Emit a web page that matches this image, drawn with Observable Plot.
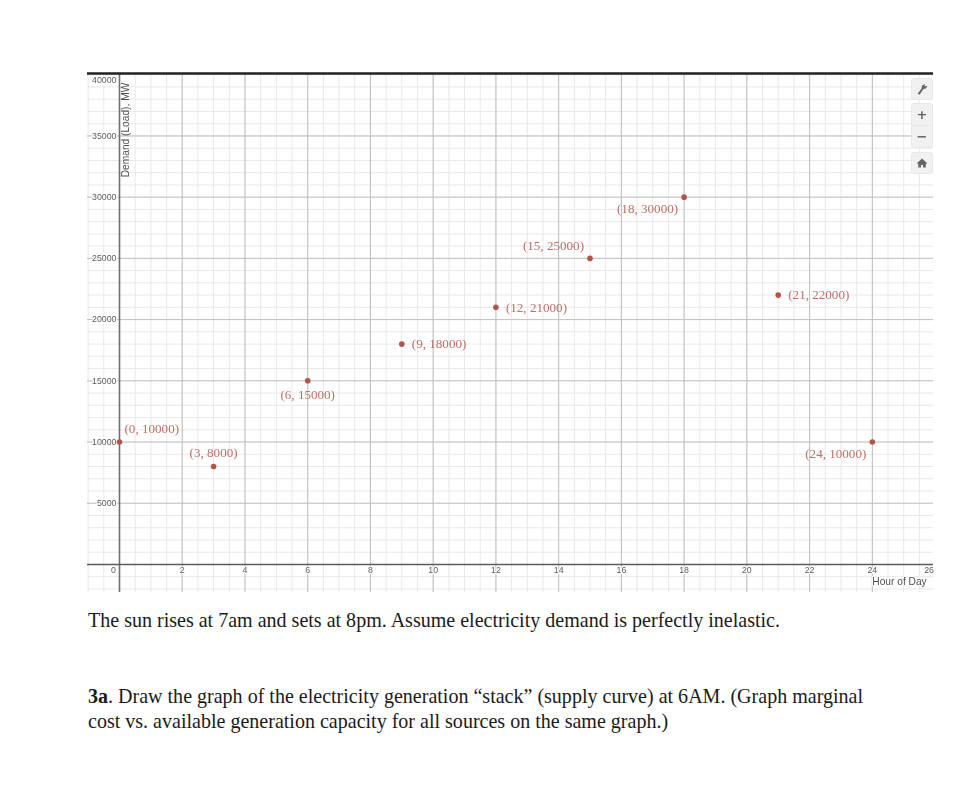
<!DOCTYPE html>
<html><head><meta charset="utf-8">
<script src="https://cdn.jsdelivr.net/npm/d3@7"></script>
<script src="https://cdn.jsdelivr.net/npm/@observablehq/plot@0.6"></script>
<style>
html,body{margin:0;padding:0;background:#fff;}
#wrap{position:relative;width:980px;height:790px;overflow:hidden;}
#chart svg{display:block;filter:blur(0.5px);background:transparent;}
.t{position:absolute;left:88px;margin:0;font-family:"Liberation Serif",serif;font-size:20.04px;line-height:25px;color:#1a1a1a;white-space:nowrap;}
.b{position:absolute;left:911px;width:22px;background:#f1f1f1;border:1px solid #e8e8e8;box-sizing:border-box;border-radius:3px;display:flex;align-items:center;justify-content:center;color:#666;font:bold 13px "DejaVu Sans",sans-serif;filter:blur(0.4px);}
</style></head><body>
<div id="wrap">
<div id="chart"></div>
<div class="b" style="top:78px;height:22px"><svg width="12" height="12" viewBox="0 0 12 12"><path d="M1.5 11 L5.5 5.5 L6 2.5 L9 1 L8.5 3.2 L11.5 3 L9.8 5.6 L7.2 6.2 L3.8 11.5 Z" fill="#666"/></svg></div>
<div class="b" style="top:103px;height:23px;border-radius:3px 3px 0 0">+</div>
<div class="b" style="top:125px;height:23px;border-radius:0 0 3px 3px">−</div>
<div class="b" style="top:152px;height:22px"><svg width="12" height="12" viewBox="0 0 12 12"><path d="M6 1.5 L11.5 6.5 L9.8 6.5 L9.8 10.5 L7 10.5 L7 8 L5 8 L5 10.5 L2.2 10.5 L2.2 6.5 L0.5 6.5 Z" fill="#666"/></svg></div>
<p class="t" style="top:608px">The sun rises at 7am and sets at 8pm. Assume electricity demand is perfectly inelastic.</p>
<p class="t" style="top:684px"><b>3a</b>. Draw the graph of the electricity generation “stack” (supply curve) at 6AM. (Graph marginal</p>
<p class="t" style="top:709px">cost vs. available generation capacity for all sources on the same graph.)</p>
</div>
<script>
const hours = [0, 3, 6, 9, 12, 15, 18, 21, 24];
const demand = [10000, 8000, 15000, 18000, 21000, 25000, 30000, 22000, 10000];
const xTickValues = [2, 4, 6, 8, 10, 12, 14, 16, 18, 20, 22, 24, 26];
const yTickValues = [5000, 10000, 15000, 20000, 25000, 30000, 35000, 40000];
const xMinor = d3.range(-1, 26, 0.5);
const yMinor = d3.range(-2000, 40001, 1000);
const xTitle = "Hour of Day";
const yTitle = "Demand (Load), MW";

const points = hours.map((h, i) => ({hour: h, mw: demand[i], label: `(${h}, ${demand[i]})`}));
const RUST = "#b5524a";
const labelStyle = {x: "hour", y: "mw", text: "label", fill: "#bd6f68", fontFamily: "Liberation Serif, serif", fontSize: 13.1};
const tickStyle = {fill: "#5c5c5c", fontFamily: "Liberation Sans, sans-serif", fontSize: 8.8, stroke: "#fff", strokeWidth: 2};
const group = (list) => (d) => list.includes(d.hour);

const chart = Plot.plot({
  width: 980, height: 600,
  marginLeft: 87, marginRight: 47, marginTop: 73, marginBottom: 8,
  x: {domain: [-1.02, 25.95], axis: null},
  y: {domain: [-2290, 40100], axis: null},
  marks: [
    Plot.ruleX(xMinor, {stroke: "#e9e9e9", strokeWidth: 1}),
    Plot.ruleY(yMinor, {stroke: "#e9e9e9", strokeWidth: 1}),
    Plot.ruleX(xTickValues.filter(v => v < 25.95), {stroke: "#bfbfbf", strokeWidth: 1}),
    Plot.ruleY(yTickValues.filter(v => v < 40000), {stroke: "#c2c2c2", strokeWidth: 1}),
    Plot.ruleX([0], {stroke: "#6f6f6f", strokeWidth: 1.6}),
    Plot.ruleY([0], {stroke: "#5c5c5c", strokeWidth: 1.6}),
    Plot.ruleY([40100], {stroke: "#222", strokeWidth: 2.5}),
    Plot.text(xTickValues.filter(v => v < 26), {x: d => d, y: () => 0, text: d => String(d), dy: 6, ...tickStyle}),
    Plot.text([26], {x: d => d, y: () => 0, text: d => String(d), dx: -6, dy: 6, ...tickStyle}),
    Plot.text([0], {x: d => d, y: () => 0, text: d => String(d), dx: -6, dy: 6, ...tickStyle}),
    Plot.text(yTickValues.filter(v => v < 40000), {x: () => 0, y: d => d, text: d => String(d), textAnchor: "end", dx: -3, ...tickStyle}),
    Plot.text([40000], {x: () => 0, y: d => d, text: d => String(d), textAnchor: "end", dx: -3, dy: 5, ...tickStyle}),
    Plot.text([xTitle], {x: () => 24, y: () => 0, text: d => d, textAnchor: "start", dy: 17, fill: "#4f4f4f", fontFamily: "Liberation Sans, sans-serif", fontSize: 10.2, stroke: "#fff", strokeWidth: 2}),
    Plot.text([yTitle], {x: () => 0, y: () => 40000, text: d => d, rotate: -90, textAnchor: "end", dx: 6, dy: 8, fill: "#4f4f4f", fontFamily: "Liberation Sans, sans-serif", fontSize: 10.2}),
    Plot.dot(points, {x: "hour", y: "mw", r: 2.8, fill: RUST}),
    Plot.text(points, {...labelStyle, filter: group([9, 12, 21]), textAnchor: "start", dx: 10}),
    Plot.text(points, {...labelStyle, filter: group([0]), textAnchor: "start", dx: 5, dy: -13}),
    Plot.text(points, {...labelStyle, filter: group([3]), textAnchor: "middle", dy: -14}),
    Plot.text(points, {...labelStyle, filter: group([6]), textAnchor: "middle", dy: 14}),
    Plot.text(points, {...labelStyle, filter: group([15]), textAnchor: "end", dx: -6, dy: -13}),
    Plot.text(points, {...labelStyle, filter: group([18, 24]), textAnchor: "end", dx: -6, dy: 12})
  ]
});
document.getElementById("chart").appendChild(chart);
</script>
</body></html>
